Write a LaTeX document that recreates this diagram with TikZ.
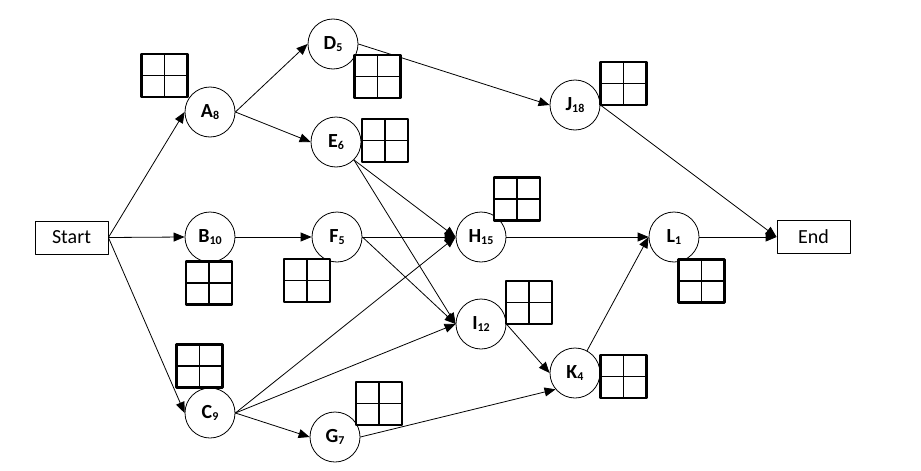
\documentclass[tikz,border=0pt]{standalone}
\usepackage{fontspec}
\setmainfont{Carlito}
\usetikzlibrary{arrows.meta}
\newcommand{\actlbl}[2]{\textbf{#1}\raisebox{-2.5pt}{\fontsize{12}{13}\selectfont\bfseries #2}}
\begin{document}
\begin{tikzpicture}[x=1pt,y=-1pt,line cap=round,line join=round,font=\fontsize{20}{23}\selectfont,>={Triangle[length=11pt,width=9pt]},
 act/.style={circle,draw,minimum size=50pt,inner sep=0pt,line width=0.8pt},
 term/.style={rectangle,draw,minimum width=73pt,minimum height=33pt,line width=0.8pt,font=\fontsize{20}{22}\selectfont}]
 \useasboundingbox (0,0) rectangle (921,471);
 \node[term](start) at (71.5,237.5){\raisebox{-4pt}{Start}};
 \node[term](end) at (813.5,237){\raisebox{-4pt}{End}};
 \foreach \n/\x/\y/\d in {A/210/112/8,B/210/237/10,C/210/413/9,D/333/44/5,E/336/142/6,F/337/237/5,G/335/437/7,H/481/237/15,I/481/324/12,J/575/105/18,K/575/373/4,L/674/237/1}
  \node[act](\n) at (\x,\y){\actlbl{\n}{\d}};
 \foreach \a/\b in {start.east/A.west,start.east/B.west,start.east/C.west,A.east/D.west,A.east/E.west,B.east/F.west,D.east/J.west,E.south east/H.west,E.south east/I.west,F.east/H.west,F.east/I.west,C.east/H.west,C.east/I.west,C.east/G.west,G.east/K.220,I.east/K.west,H.east/L.west,K/L.west,J.east/end.west,L.east/end.west}
  \draw[->,line width=0.8pt](\a)--(\b);
 % 2x2 boxes
 \foreach \x/\y in {164.5/75.5,377.5/76.5,385/140.5,209/283,307/280.5,199.5/366,379/403.5,517/199,529/302.5,623.5/83.5,623.5/376.5,701.5/281}{
  \draw[line width=2.6pt,fill=white](\x-23,\y-21.5)rectangle(\x+23,\y+21.5);
  \draw[line width=1.8pt](\x,\y-21.5)--(\x,\y+21.5)(\x-23,\y)--(\x+23,\y);}
\end{tikzpicture}
\end{document}
